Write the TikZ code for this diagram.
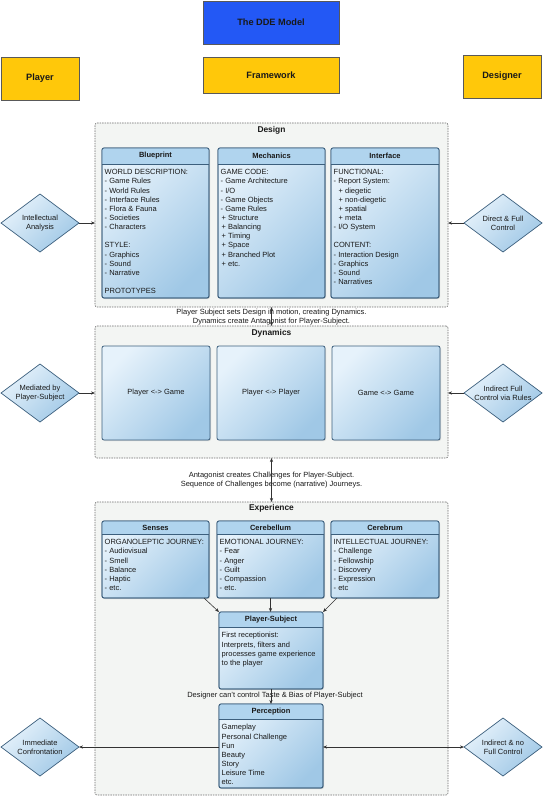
\documentclass[tikz,border=0pt]{standalone}
\usepackage{fontspec}
\setmainfont{Liberation Sans}
\usetikzlibrary{shapes.geometric,arrows.meta,shadows}
\definecolor{ylw}{RGB}{255,200,10}
\definecolor{ddeblue}{RGB}{35,88,245}
\definecolor{cfill}{RGB}{243,245,243}
\definecolor{cline}{RGB}{110,110,110}
\definecolor{bline}{RGB}{60,95,125}
\definecolor{blight}{RGB}{230,242,251}
\definecolor{bdark}{RGB}{160,200,230}
\definecolor{bhdr}{RGB}{176,212,238}
\definecolor{txt}{RGB}{25,25,25}
\definecolor{arr}{RGB}{50,50,50}
\tikzset{
 topbox/.style={draw=gray!70!black, line width=0.6pt, fill=ylw, font=\fontsize{9.2}{11}\selectfont\bfseries, text=txt, inner sep=0pt, outer sep=0pt, anchor=north west},
 container/.style={draw=cline, dash pattern=on 1.5pt off 1pt, fill=cfill, rounded corners=2pt, line width=0.6pt, anchor=north west, inner sep=0pt, outer sep=0pt},
 ctitle/.style={font=\fontsize{8.4}{10}\selectfont\bfseries, text=txt},
 ubox/.style={draw=bline, line width=0.8pt, rounded corners=2pt, top color=blight, bottom color=bdark, shading angle=45, inner sep=0pt, outer sep=0pt, anchor=north west, font=\fontsize{7.5}{9}\selectfont, text=txt, drop shadow={shadow xshift=1pt,shadow yshift=-1pt,opacity=0.25}},
 btitle/.style={font=\fontsize{7.5}{9}\selectfont\bfseries, text=txt},
 btext/.style={anchor=north west, align=left, inner sep=0pt, font=\fontsize{7.5}{9.15}\selectfont, text=txt},
 dia/.style={diamond, draw=bline, line width=0.7pt, top color=blight, bottom color=bdark, shading angle=45, minimum width=78pt, minimum height=58pt, inner sep=0pt, outer sep=0pt},
 dtext/.style={align=center, font=\fontsize{7.5}{9}\selectfont, text=txt},
 note/.style={font=\fontsize{7.5}{9}\selectfont, text=txt, inner sep=0pt},
 conn/.style={draw=arr, line width=0.6pt, >={Stealth[length=4pt,width=3.2pt]}},
}
\newcommand\umlbox[8]{%
 \node[ubox, minimum width={#4-#2}, minimum height={#5-#3}] (#1) at (#2,#3) {};
 \begin{scope}
  \clip[rounded corners=2pt] (#1.north west) rectangle (#1.south east);
  \fill[bhdr] (#1.north west) rectangle (#4,#6);
 \end{scope}
 \draw[bline, line width=0.5pt] (#2,#6) -- (#4,#6);
 \draw[bline, line width=0.8pt, rounded corners=2pt] (#1.north west) rectangle (#1.south east);
 \node[btitle] (#1-t) at ({(#2+#4)/2},{(#3+#6)/2}) {#7};
 \node[btext] (#1-b) at (#2+2.5,#6+5.3) {#8};
}
\begin{document}
\begin{tikzpicture}[x=1pt,y=-1pt]
\useasboundingbox (0,0) rectangle (543,797);
% top boxes
\node[topbox, fill=ddeblue, minimum width=136pt, minimum height=43pt] (dde) at (203,1) {The DDE Model};
\node[topbox, minimum width=78pt, minimum height=43pt] (player) at (1,57) {Player};
\node[topbox, minimum width=136pt, minimum height=36pt] (framework) at (203,57) {Framework};
\node[topbox, minimum width=78pt, minimum height=43pt] (designer) at (463,55) {Designer};
% containers
\node[container, minimum width=353pt, minimum height=184pt] (design) at (95,123) {};
\node[ctitle] (design-t) at (271.5,130) {Design};
\node[container, minimum width=353pt, minimum height=132pt] (dynamics) at (95,326) {};
\node[ctitle] (dynamics-t) at (271.5,333) {Dynamics};
\node[container, minimum width=353pt, minimum height=293pt] (experience) at (95,502) {};
\node[ctitle] (experience-t) at (271.5,508) {Experience};
% design boxes
\umlbox{blueprint}{102}{148}{209}{298}{164}{Blueprint}{WORLD DESCRIPTION:\\- Game Rules\\- World Rules\\- Interface Rules\\- Flora \& Fauna\\- Societies\\- Characters\\[9.15pt]STYLE:\\- Graphics\\- Sound\\- Narrative\\[9.15pt]PROTOTYPES}
\umlbox{mechanics}{218}{148}{325}{298}{164}{Mechanics}{GAME CODE:\\- Game Architecture\\- I/O\\- Game Objects\\- Game Rules\\\hspace*{1pt}+ Structure\\\hspace*{1pt}+ Balancing\\\hspace*{1pt}+ Timing\\\hspace*{1pt}+ Space\\\hspace*{1pt}+ Branched Plot\\\hspace*{1pt}+ etc.}
\umlbox{interface}{331}{148}{439}{298}{164}{Interface}{FUNCTIONAL:\\- Report System:\\\hspace*{5pt}+ diegetic\\\hspace*{5pt}+ non-diegetic\\\hspace*{5pt}+ spatial\\\hspace*{5pt}+ meta\\- I/O System\\[9.15pt]CONTENT:\\- Interaction Design\\- Graphics\\- Sound\\- Narratives}
% dynamics boxes
\node[ubox, minimum width=108pt, minimum height=94pt] (pg) at (102,346) {Player <-> Game};
\node[ubox, minimum width=108pt, minimum height=94pt] (pp) at (217,346) {Player <-> Player};
\node[ubox, minimum width=108pt, minimum height=94pt] (gg) at (332,346) {Game <-> Game};
% experience boxes
\umlbox{senses}{102}{521}{209}{598}{534}{Senses}{ORGANOLEPTIC JOURNEY:\\- Audiovisual\\- Smell\\- Balance\\- Haptic\\- etc.}
\umlbox{cerebellum}{217}{521}{324}{598}{534}{Cerebellum}{EMOTIONAL JOURNEY:\\- Fear\\- Anger\\- Guilt\\- Compassion\\- etc.}
\umlbox{cerebrum}{331}{521}{439}{598}{534}{Cerebrum}{INTELLECTUAL JOURNEY:\\- Challenge\\- Fellowship\\- Discovery\\- Expression\\- etc}
\umlbox{ps}{219}{612}{323}{689}{627}{Player-Subject}{First receptionist:\\Interprets, filters and\\processes game experience\\to the player}
\umlbox{perception}{219}{704}{323}{788}{719}{Perception}{Gameplay\\Personal Challenge\\Fun\\Beauty\\Story\\Leisure Time\\etc.}
% diamonds
\node[dia] (ia) at (40,223) {};
\node[dtext] (ia-t) at (ia) {Intellectual\\Analysis};
\node[dia] (dfc) at (503,223) {};
\node[dtext] (dfc-t) at (dfc) {Direct \& Full\\Control};
\node[dia] (mps) at (40,393) {};
\node[dtext] (mps-t) at (mps) {Mediated by\\Player-Subject};
\node[dia] (ifc) at (503,393) {};
\node[dtext] (ifc-t) at (ifc) {Indirect Full\\Control via Rules};
\node[dia] (ic) at (40,747) {};
\node[dtext] (ic-t) at (ic) {Immediate\\Confrontation};
\node[dia] (inf) at (503,747) {};
\node[dtext] (inf-t) at (inf) {Indirect \& no\\Full Control};
% notes
\node[note] (n1) at (271.5,313) {Player Subject sets Design in motion, creating Dynamics.};
\node[note] (n2) at (271.5,321.5) {Dynamics create Antagonist for Player-Subject.};
\node[note] (n3) at (271.5,476) {Antagonist creates Challenges for Player-Subject.};
\node[note] (n4) at (271.5,485) {Sequence of Challenges become (narrative) Journeys.};
\node[note] (n5) at (275,696) {Designer can't control Taste \& Bias of Player-Subject};
% connectors
\draw[conn,->] (ia.east) -- (ia.east -| design.west);
\draw[conn,->] (dfc.west) -- (dfc.west -| design.east);
\draw[conn,->] (mps.east) -- (mps.east -| dynamics.west);
\draw[conn,->] (ifc.west) -- (ifc.west -| dynamics.east);
\draw[conn,<->] (design.south) -- (dynamics.north);
\draw[conn,<->] (dynamics.south) -- (experience.north);
\draw[conn,->] ([xshift=-5pt]senses.south east) -- (ps.north west);
\draw[conn,->] (cerebellum.south) -- (cerebellum.south |- ps.north);
\draw[conn,->] ([xshift=6pt]cerebrum.south west) -- (ps.north east);
\draw[conn,->] (ps.south) -- (perception.north);
\draw[conn,->] (ic.east -| perception.west) -- (ic.east);
\draw[conn,<->] (inf.west -| perception.east) -- (inf.west);
\end{tikzpicture}
\end{document}
